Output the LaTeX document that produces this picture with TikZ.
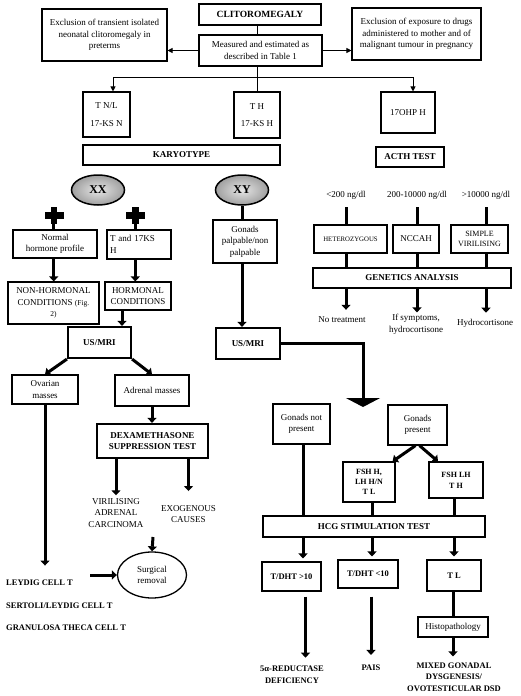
\documentclass[tikz,border=0pt]{standalone}
\usepackage{fontspec}
\setmainfont{Liberation Serif}
\usetikzlibrary{arrows.meta}
\usetikzlibrary{shapes.geometric}

\tikzset{
	box/.style={draw, line width=1.1pt, align=center, inner sep=1pt, font=\fontsize{9}{11.5}\selectfont},
	hbox/.style={box, line width=2.2pt, font=\fontsize{9}{11.5}\selectfont\bfseries},
	lbl/.style={align=center, inner sep=0pt, font=\fontsize{9}{11.5}\selectfont},
	bld/.style={font=\fontsize{8.5}{11.5}\selectfont\bfseries},
	chrom/.style={ellipse, draw, line width=1.5pt, inner color=gray!20, outer color=gray!75, font=\fontsize{12}{14}\selectfont\bfseries, minimum width=53pt, minimum height=30pt, inner sep=0pt},
	ln/.style={line width=1pt},
	arr/.style={line width=1pt, -{Triangle[width=5pt,length=5pt]}},
	tk/.style={line width=3pt},
	tarr/.style={line width=3pt, -{Triangle[width=9pt,length=5pt]}},
	sz/.style 2 args={minimum width=#1pt, minimum height=#2pt}
}

\begin{document}
\begin{tikzpicture}[x=1pt,y=-1pt]

						\useasboundingbox (0,0) rectangle (520,696);

						\coordinate(spine) at (257,0);
						\coordinate(jL) at (113,77);
						\coordinate(jR) at (413,77);
						\coordinate(hA) at (122,0);
						\coordinate(c1) at (303,0);
						\coordinate(c2) at (372,0);
						\coordinate(c3) at (454,0);
						\coordinate(sv) at (153,537);
						\coordinate(sw) at (90,575);
						\coordinate(big) at (363,407);

						\node[hbox, sz={122}{21}, font=\fontsize{9.5}{11}\selectfont\bfseries] (clito) at (260,14.5) {CLITOROMEGALY};
						\node[box, sz={123}{31}] (meas) at (260.5,50.5) {Measured and estimated as\\described in Table 1};
						\node[box, sz={125}{52}] (exclL) at (104.5,35) {Exclusion of transient isolated\\neonatal clitoromegaly in\\preterms};
						\node[box, sz={129}{52}] (exclR) at (416.5,34) {Exclusion of exposure to drugs\\administered to mother and of\\malignant tumour in pregnancy};

						\node[box, sz={47}{45}] (tnl) at (106.5,114.5) {T N/L\\[6pt]17-KS N};
						\node[box, sz={46}{46}] (th) at (257,115) {T H\\[6pt]17-KS H};
						\node[box, sz={54}{41}] (ohp) at (408,112.5) {17OHP H};

						\draw[ln] (clito.south -| spine)--(meas.north -| spine);
						\draw[arr] (meas.west)--(meas.west -| exclL.east);
						\draw[arr] (meas.east)--(meas.east -| exclR.west);
						\draw[ln] (meas.south -| spine)--(th.north);
						\draw[ln] (jL)--(jR);
						\draw[arr] (jL)--(jL |- tnl.north);
						\draw[arr] (jR)--(jR |- ohp.north);

						\node[hbox, sz={197}{20}] (kary) at (181.5,155) {KARYOTYPE};
						\node[hbox, sz={68}{20}] (acth) at (410,157) {ACTH TEST};

						\node[chrom] (xx) at (98,190) {XX};
						\node[chrom] (xy) at (242,190) {XY};

						\fill (50.5,207) rectangle (57,224);
						\fill (45,211.5) rectangle (63.5,219);
						\coordinate(crA) at (53.7,224);
						\fill (132,207) rectangle (138.5,224);
						\fill (126,211.5) rectangle (145,219);
						\coordinate(crB) at (135.3,224);

						\node[box, sz={84}{28}] (norm) at (55,244) {Normal\\hormone profile};
						\node[box, sz={64}{29}, align=left, text width=58pt] (t17) at (139,244.5) {T and 17KS\\H};
						\draw[tk] (crA)--(crA |- norm.north);
						\draw[tk] (crB)--(crB |- t17.north);

						\node[box, sz={91}{42}] (nonh) at (53.5,303) {NON-HORMONAL\\CONDITIONS {\fontsize{7.5}{9}\selectfont (Fig.}\\{\fontsize{7.5}{9}\selectfont 2)}};
						\node[box, sz={66}{28}] (horm) at (138,296) {HORMONAL\\CONDITIONS};
						\draw[tarr] (norm.south -| crA)--(nonh.north -| crA);
						\draw[tarr] (t17.south -| crB)--(horm.north -| crB);

						\node[hbox, sz={63}{31}] (usA) at (99.5,342.5) {US/MRI};
						\draw[tarr] (horm.south -| hA)--(usA.north -| hA);

						\node[box, sz={66}{29}] (ovar) at (45,389.5) {Ovarian\\masses};
						\node[box, sz={74}{31}] (adr) at (152,390.5) {Adrenal masses};
						\draw[tarr] (usA.south west)--(ovar.north);
						\draw[tarr] (usA.south east)--(adr.north);

						\node[hbox, sz={111}{34}] (dex) at (152.5,441) {DEXAMETHASONE\\SUPPRESSION TEST};
						\draw[tarr] (adr.south)--(adr.south |- dex.north);

						\node[lbl] (vir) at (116,513) {VIRILISING\\ADRENAL\\CARCINOMA};
						\node[lbl] (exo) at (188.5,514) {EXOGENOUS\\CAUSES};
						\draw[tarr, shorten >=3pt] (dex.south -| vir)--(vir.north);
						\draw[tarr, shorten >=14pt] (dex.south -| exo)--(exo.north);

						\node[ellipse, draw, line width=1.3pt, sz={69}{46}, inner sep=0pt, lbl] (surg) at (152,575) {Surgical\\removal};
						\draw[tarr] (sv)--(surg.north);
						\draw[tarr] (sw)--(surg.west);
						\draw[tarr] (ovar.south)--++(0,161);

						\node[lbl, bld, anchor=west] (ley1) at (6,583) {LEYDIG CELL T};
						\node[lbl, bld, anchor=west] (ley2) at (6,606) {SERTOLI/LEYDIG CELL T};
						\node[lbl, bld, anchor=west] (ley3) at (6,628) {GRANULOSA THECA CELL T};

						\node[box, sz={64}{43}] (gon) at (245,241.5) {Gonads\\palpable/non\\palpable};
						\draw[tk] (xy.south)--(xy.south |- gon.north);
						\node[hbox, sz={64}{31}] (usB) at (248,343.5) {US/MRI};
						\draw[tarr] (gon.south -| xy)--(usB.north -| xy);
						\draw[tk, -{Triangle[width=34pt,length=9pt]}] (usB.east)-|(big);

						\node[lbl] (lo) at (346,195) {<200 ng/dl};
						\node[lbl] (mid) at (417,195) {200-10000 ng/dl};
						\node[lbl] (hi) at (486,195) {>10000 ng/dl};
						\node[box, sz={73}{28}, font=\fontsize{6.8}{8}\selectfont] (het) at (350.5,239) {HETEROZYGOUS};
						\node[box, sz={46}{28}] (ncc) at (416,239) {NCCAH};
						\node[box, sz={57}{28}, font=\fontsize{8}{10}\selectfont] (simv) at (479.5,239) {SIMPLE\\VIRILISING};
						\node[hbox, sz={198}{20}] (gen) at (412,278) {GENETICS ANALYSIS};
						\draw[tk, shorten <=8pt] (lo.south)--(lo.south |- het.north);
						\draw[tk, shorten <=8pt] (mid.south)--(mid.south |- ncc.north);
						\draw[tk, shorten <=8pt] (hi.south)--(hi.south |- simv.north);
						\draw[tk] (het.south -| lo)--(gen.north -| lo);
						\draw[tk] (ncc.south -| mid)--(gen.north -| mid);
						\draw[tk] (simv.south -| hi)--(gen.north -| hi);

						\node[lbl] (nt) at (342,320) {No treatment};
						\node[lbl] (ifs) at (416,324.5) {If symptoms,\\hydrocortisone};
						\node[lbl] (hc) at (485,323) {Hydrocortisone};
						\draw[tarr, shorten >=7pt] (gen.south -| lo)--(nt.north -| lo);
						\draw[tarr, shorten >=2pt] (gen.south -| mid)--(ifs.north -| mid);
						\draw[tarr, shorten >=6pt] (gen.south -| hi)--(hc.north -| hi);

						\node[box, sz={57}{40}] (gnp) at (301.5,424) {Gonads not\\present};
						\node[box, sz={59}{40}] (gp) at (417.5,425) {Gonads\\present};
						\node[box, bld, sz={52}{40}, font=\fontsize{8}{10}\selectfont\bfseries] (fsh1) at (369,482) {FSH H,\\LH H/N\\T L};
						\node[box, bld, sz={54}{36}, font=\fontsize{8}{11}\selectfont\bfseries] (fsh2) at (456,480) {FSH LH\\T H};
						\draw[tarr] ([xshift=-2pt]gp.south)--([xshift=-3pt]fsh1.north east);
						\draw[tarr] ([xshift=2pt]gp.south)--([xshift=-18pt]fsh2.north);

						\node[hbox, sz={222}{21}] (hcg) at (374,526.5) {HCG STIMULATION TEST};
						\draw[tk] (gnp.south -| c1)--(hcg.north -| c1);
						\draw[tk] (fsh1.south -| c2)--(hcg.north -| c2);
						\draw[tk] (fsh2.south -| c3)--(hcg.north -| c3);

						\node[box, sz={59}{29}, font=\fontsize{8.5}{11}\selectfont\bfseries] (td1) at (291.5,576.5) {T/DHT >10};
						\node[box, sz={60}{28}, font=\fontsize{8.5}{11}\selectfont\bfseries] (td2) at (368,574) {T/DHT <10};
						\node[box, sz={54}{31}, font=\fontsize{8.5}{11}\selectfont\bfseries] (tl) at (454,575.5) {T L};
						\draw[tarr, shorten >=3pt] (hcg.south -| c1)--(td1.north -| c1);
						\draw[tarr, shorten >=3pt] (hcg.south -| c2)--(td2.north -| c2);
						\draw[tarr, shorten >=3pt] (hcg.south -| c3)--(tl.north -| c3);

						\node[box, sz={70}{20}] (histo) at (453,627) {Histopathology};
						\draw[tk] (tl.south -| histo)--(histo.north);

						\node[lbl, bld] (red) at (292,674.5) {5α-REDUCTASE\\DEFICIENCY};
						\node[lbl, bld] (pais) at (371,668) {PAIS};
						\node[lbl, bld] (mix) at (454,677) {MIXED GONADAL\\DYSGENESIS/\\OVOTESTICULAR DSD};
						\draw[tarr, shorten <=5pt, shorten >=8pt] ([xshift=14pt]td1.south)--([xshift=14pt]td1.south |- red.north);
						\draw[tarr, shorten <=8pt, shorten >=10pt] ([xshift=3pt]td2.south)--([xshift=3pt]td2.south |- pais.north);
						\draw[tarr, shorten >=6pt] (histo.south)--(histo.south |- mix.north);
					\end{tikzpicture}
\end{document}
